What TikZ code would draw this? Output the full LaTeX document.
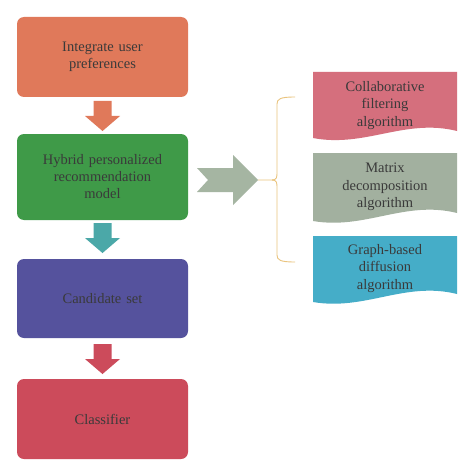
\documentclass[tikz,border=0pt]{standalone}
\usepackage{fontspec}
\setmainfont{Liberation Serif}
\usetikzlibrary{calc}
\definecolor{corange}{HTML}{E0795A}
\definecolor{cgreen}{HTML}{3F9A48}
\definecolor{cpurple}{HTML}{55529D}
\definecolor{cred}{HTML}{CC4B5B}
\definecolor{cteal}{HTML}{4BA8A8}
\definecolor{cpink}{HTML}{D56F7D}
\definecolor{cgray}{HTML}{A2B09F}
\definecolor{cblue}{HTML}{45ADC8}
\definecolor{carrow}{HTML}{A5B5A2}
\definecolor{cbrace}{HTML}{EAC47E}
\definecolor{ctext}{HTML}{3A3A3A}
\tikzset{
  mainbox/.style={rounded corners=7pt, minimum width=171pt, minimum height=80pt, inner sep=0pt, text width=165pt, align=center, text=ctext, font=\fontsize{14.5}{17}\selectfont},
  wavetext/.style={text=ctext, align=center, font=\fontsize{14.5}{17.5}\selectfont, inner sep=0pt},
}
\begin{document}
\begin{tikzpicture}[x=1pt,y=-1pt]
\useasboundingbox (0,0) rectangle (474,476);
\fill[white] (0,0) rectangle (474,476);
% main boxes
\node[mainbox, fill=corange] (b1) at (102.5,57) {Integrate user\\preferences};
\node[mainbox, fill=cgreen, minimum height=86pt] (b2) at (102.5,177) {Hybrid personalized\\recommendation\\model};
\node[mainbox, fill=cpurple, minimum height=79pt] (b3) at (102.5,298.5) {Candidate set};
\node[mainbox, fill=cred] (b4) at (102.5,419) {Classifier};
% down arrows
\fill[corange] (93.5,101) -- (111.5,101) -- (111.5,116) -- (120,116) -- (102.5,131) -- (85,116) -- (93.5,116) -- cycle;
\fill[cteal] (93.5,223) -- (111.5,223) -- (111.5,238) -- (120,238) -- (102.5,253) -- (85,238) -- (93.5,238) -- cycle;
\fill[cred] (93.5,344) -- (111.5,344) -- (111.5,359) -- (120,359) -- (102.5,374) -- (85,359) -- (93.5,359) -- cycle;
% gray chevron arrow
\coordinate (tip) at (258,180);
\fill[carrow] (197,168) -- (233,168) -- (233,155) -- (tip) -- (233,205) -- (233,192) -- (197,192) -- (208,180) -- cycle;
% brace
\draw[cbrace, line width=0.9pt] (tip) -- (272,180) .. controls (277,180) and (277,177) .. (277,172) -- (277,104) .. controls (277,99) and (280,97) .. (295,97);
\draw[cbrace, line width=0.9pt] (272,180) .. controls (277,180) and (277,183) .. (277,188) -- (277,255) .. controls (277,260) and (280,262) .. (295,262);
% wavy boxes
\fill[cpink] (313,72) -- (457,72) -- (457,131) .. controls (405,118) and (365,148) .. (313,138) -- cycle;
\node[wavetext] (r1) at (385,105.5) {Collaborative\\filtering\\algorithm};
\fill[cgray] (313,153) -- (457,153) -- (457,213) .. controls (405,200) and (365,230) .. (313,221) -- cycle;
\node[wavetext] (r2) at (385,187) {Matrix\\decomposition\\algorithm};
\fill[cblue] (313,236) -- (457,236) -- (457,294) .. controls (405,281) and (365,311) .. (313,302) -- cycle;
\node[wavetext] (r3) at (385,268.5) {Graph-based\\diffusion\\algorithm};
\end{tikzpicture}
\end{document}
